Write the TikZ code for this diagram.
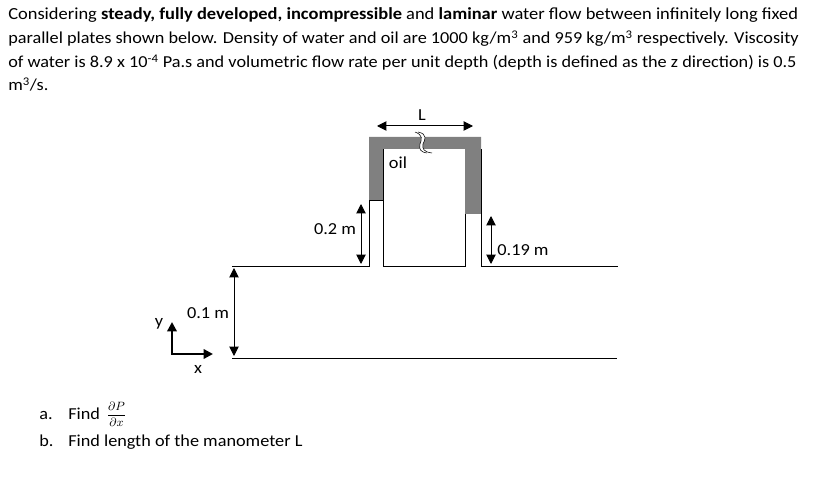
\documentclass[tikz,border=0pt]{standalone}
\usepackage{fontspec}
\setmainfont[FakeStretch=1.09]{Carlito}
\usetikzlibrary{arrows.meta}
\tikzset{
	txt/.style={anchor=base west,inner sep=0pt,font=\fontsize{12.55}{13}\selectfont},
	lbl/.style={inner sep=0pt,font=\fontsize{12.6}{13}\selectfont},
	wall/.style={line width=0.75pt},
	dimarrow/.style={{Triangle[length=7pt,width=7pt]}-{Triangle[length=7pt,width=7pt]},line width=0.75pt},
	axis/.style={-{Triangle[length=7pt,width=7pt]},line width=1.7pt}
}
\begin{document}
\begin{tikzpicture}[x=0.75pt,y=-0.75pt]
	\useasboundingbox (0,0) rectangle (826,478);
	\node[txt,font=\fontsize{12.7}{13}\selectfont] (line1) at (8,20) {Considering \textbf{steady, fully developed, incompressible} and \textbf{laminar} water flow between infinitely long fixed};
	\node[txt] (line2) at (8,44) {parallel plates shown below. Density of water and oil are 1000 kg/m\textsuperscript{3} and 959 kg/m\textsuperscript{3} respectively. Viscosity};
	\node[txt] (line3) at (8,68) {of water is 8.9 x 10\textsuperscript{-4} Pa.s and volumetric flow rate per unit depth (depth is defined as the z direction) is 0.5};
	\node[txt] (line4) at (8,91) {m\textsuperscript{3}/s.};
	% oil
	\fill[gray] (369,137)--(481,137)--(481,214)--(465,214)--(465,149)--(383,149)--(383,201)--(369,201)--cycle;
	% channel
	\coordinate (wallL) at (232,266);
	\coordinate (wallR) at (618,266);
	\coordinate (floorL) at (232,358);
	\coordinate (floorR) at (617,358);
	\draw[wall] (wallL)--(369,266)--(369,201)--(383,201)--(383,149);
	\draw[wall] (383,201)--(383,266)--(465,266)--(465,214);
	\draw[wall] (481,149)--(481,266)--(wallR);
	\draw[wall] (floorL)--(floorR);
	% break in the tube
	\fill[white] (418,132) .. controls (428,134) and (425,140) .. (423,144) .. controls (422,149) and (424,152) .. (432,153)
		-- (427,153) .. controls (420,152) and (419,149) .. (420,144) .. controls (422,139) and (423,135) .. (415,132) -- cycle;
	\draw[line width=0.4pt] (415,132) .. controls (423,135) and (422,139) .. (420,144) .. controls (419,149) and (420,152) .. (427,153);
	\draw[line width=0.4pt] (418,132) .. controls (428,134) and (425,140) .. (423,144) .. controls (422,149) and (424,152) .. (432,153);
	% sizes
	\coordinate (LL) at (377,126);
	\coordinate (LR) at (473,126);
	\draw[dimarrow] (LL)--(LR);
	\node[lbl] (Ltext) at (422,115) {L};
	\coordinate (oilT) at (361,204);
	\coordinate (oilB) at (361,264);
	\draw[dimarrow] (oilT)--(oilB);
	\node[lbl] (oilh) at (335,229) {0.2 m};
	\coordinate (waterT) at (491,216);
	\coordinate (waterB) at (491,264);
	\draw[dimarrow] (waterT)--(waterB);
	\node[lbl] (waterh) at (523,250) {0.19 m};
	\coordinate (gapT) at (234,268);
	\coordinate (gapB) at (234,356);
	\draw[dimarrow] (gapT)--(gapB);
	\node[lbl] (gaph) at (208,313) {0.1 m};
	\node[lbl] (oil) at (398,163) {oil};
	% axes
	\coordinate (origin) at (172,354);
	\coordinate (ytip) at (172,322);
	\coordinate (xtip) at (213,354);
	\draw[axis] (origin)--(ytip);
	\draw[axis] (171.4,354)--(xtip);
	\node[lbl] (ylab) at (159,324) {y};
	\node[lbl] (xlab) at (198,369) {x};
	% questions
	\node[txt] (qa) at (39,419) {a.};
	\node[txt] (finda) at (68,419) {Find};
	\node[lbl,font=\fontsize{9}{10}\selectfont] (frac) at (116.5,414) {$\displaystyle\frac{\partial P}{\partial x}$};
	\node[txt] (qb) at (39,446) {b.};
	\node[txt] (findb) at (68,446) {Find length of the manometer L};
\end{tikzpicture}
\end{document}
